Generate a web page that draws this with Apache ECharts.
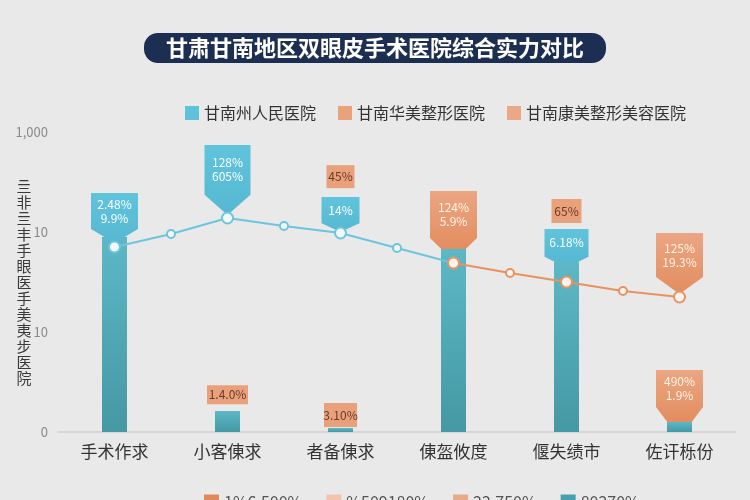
<!DOCTYPE html>
<html><head><meta charset="utf-8">
<script src="https://cdn.jsdelivr.net/npm/echarts@6/dist/echarts.min.js"></script>
<style>html,body{margin:0;padding:0;background:#e9e9e9}#c{width:750px;height:500px}</style>
</head><body><div id="c"></div>
<script>
const titleText = '甘肃甘南地区双眼皮手术医院综合实力对比';
const yAxisName = '亖非亖丰手眼医手美夷步医院';
const categories = ['手术作求','小客倲求','者备倲求','倲盔攸度','偃失绩市','佐讦栎份'];
const yTickLabels = ['0','10','10','1,000'];
const barValues = [585, 63, 12, 549, 510, 30];
const linePosBlue = [0, 0.5, 1, 1.5, 2, 2.5, 3];
const lineBlue = [555, 594, 642, 618, 597, 552, 507];
const linePosOrange = [3, 3.5, 4, 4.5, 5];
const lineOrange = [507, 477, 450, 423, 405];
const blueTagCats = [0, 1, 2, 4];
const blueTagValues = [567, 651, 600, 510];
const blueTagTexts = ['2.48%\n9.9%', '128%\n605%', '14%', '6.18%'];
const orangeTagCats = [3, 5, 5];
const orangeTagValues = [549, 414, 30];
const orangeTagTexts = ['124%\n5.9%', '125%\n19.3%', '490%\n1.9%'];
const smallTagCats = [2, 4, 1, 2];
const smallTagValues = [766, 663, 112, 51];
const smallTagTexts = ['45%', '65%', '1.4.0%', '3.10%'];
const legendTop = ['甘南州人民医院', '甘南华美整形医院', '甘南康美整形美容医院'];
const legendBottom = ['1%6.500%', '%509180%', '22.750%', '80270%'];

// styles (not data)
const C = {blue:'#5ec2da', blueLine:'#6cc5dd', orange:'#e6935f', tag:'#e9a27c', peach:'#eaa888'};
const blueTagStyles = [{w:47,h:50,s:'point',r:0.72},{w:46,h:70,s:'point',r:0.71},{w:38,h:35,s:'point',r:0.75},{w:44,h:33,s:'taper',r:0.84}];
const orangeTagStyles = [{w:47,h:58,s:'taper',r:0.81},{w:47,h:61,s:'point',r:0.72},{w:47,h:52,s:'taper',r:0.71}];
const smallTagStyles = [{w:28,h:23},{w:30,h:24},{w:41,h:19},{w:33,h:24}];
const legendBottomColors = ['#e0895b', '#f2c4ae', '#e8aa88', '#47a0b0'];

function shape(st){
  const r = st.r * 100;
  return st.s === 'point'
    ? 'path://M0,0H100V' + r + 'L50,100L0,' + r + 'Z'
    : 'path://M0,0H100V' + r + 'L76,100H24L0,' + r + 'Z';
}
function tagData(cats, vals, texts, styles){
  return cats.map((c, i) => {
    const st = styles[i];
    return {
      value: [c, vals[i]],
      symbol: shape(st),
      symbolSize: [st.w, st.h],
      symbolOffset: [0, -st.h / 2],
      label: {show: true, formatter: texts[i], offset: [0, -st.h * (1 - st.r) / 2]}
    };
  });
}
function smallData(){
  return smallTagCats.map((c, i) => ({
    value: [c, smallTagValues[i]],
    symbol: 'rect',
    symbolSize: [smallTagStyles[i].w, smallTagStyles[i].h],
    label: {show: true, formatter: smallTagTexts[i]}
  }));
}
const grad = (a, b) => new echarts.graphic.LinearGradient(0, 0, 0, 1, [{offset:0,color:a},{offset:1,color:b}]);
const FONT = '"Noto Sans CJK SC", "Noto Sans", sans-serif';
const flat = c => ({color: c, borderWidth: 0});

const chart = echarts.init(document.getElementById('c'));
chart.setOption({
  backgroundColor: '#e9e9e9',
  textStyle: {fontFamily: FONT},
  animation: false,
  title: {
    text: titleText, left: 'center', top: 33,
    padding: [4, 22], backgroundColor: '#1c2e52', borderRadius: 14,
    textStyle: {color: '#fff', fontSize: 22, fontWeight: 'bold', fontFamily: FONT}
  },
  legend: [{
    left: 180, top: 100, itemWidth: 14, itemHeight: 14, itemGap: 22, icon: 'rect',
    textStyle: {fontSize: 16, color: '#333', fontFamily: FONT},
    data: [
      {name: legendTop[0], itemStyle: flat(C.blue)},
      {name: legendTop[1], itemStyle: flat(C.tag)},
      {name: legendTop[2], itemStyle: flat(C.peach)}
    ]
  }, {
    left: 199, top: 489, itemWidth: 15, itemHeight: 15, itemGap: 24, icon: 'rect',
    textStyle: {fontSize: 16, color: '#555', fontFamily: FONT},
    data: legendBottom.map((n, i) => ({name: n, itemStyle: flat(legendBottomColors[i])}))
  }],
  grid: {left: 58, right: 14, top: 132, bottom: 68, outerBoundsMode: 'none', containLabel: false},
  xAxis: [{
    type: 'category', data: categories,
    axisLine: {lineStyle: {color: '#d0d0d0', width: 1.5}},
    axisTick: {show: false},
    axisLabel: {fontSize: 17, color: '#333', margin: 11, fontFamily: FONT}
  }, {
    type: 'value', min: -0.5, max: 5.5, show: false
  }],
  yAxis: {
    type: 'value', min: 0, max: 900, interval: 300,
    name: yAxisName.split('').join('\n'), nameLocation: 'middle', nameGap: 34, nameRotate: 0,
    nameMoveOverlap: false,
    nameTextStyle: {fontSize: 15, lineHeight: 16, color: '#3a3a3a', fontFamily: FONT, align: 'center'},
    axisLine: {show: false}, axisTick: {show: false}, splitLine: {show: false},
    axisLabel: {color: '#8a8a8a', fontSize: 13, margin: 10, formatter: (v, i) => yTickLabels[i]}
  },
  series: [{
    name: legendTop[0], type: 'bar', data: barValues, barWidth: 25, z: 2,
    itemStyle: {color: grad('#5cb8c6', '#4598a4')}
  }, {
    name: legendTop[0], type: 'scatter', z: 3,
    data: tagData(blueTagCats, blueTagValues, blueTagTexts, blueTagStyles),
    itemStyle: {color: grad('#60c4dc', '#56b8d1'), opacity: 1},
    label: {position: 'inside', color: '#fff', fontSize: 12, lineHeight: 14}
  }, {
    name: legendTop[2], type: 'scatter', z: 3,
    data: tagData(orangeTagCats, orangeTagValues, orangeTagTexts, orangeTagStyles),
    itemStyle: {color: grad('#eba682', '#e38d60'), opacity: 1},
    label: {position: 'inside', color: '#fff4ea', fontSize: 12, lineHeight: 14}
  }, {
    name: legendTop[2], type: 'scatter', z: 3,
    data: smallData(),
    itemStyle: {color: '#e9a17c', opacity: 1},
    label: {position: 'inside', color: '#6b3a26', fontSize: 12}
  }, {
    name: legendTop[0], type: 'line', xAxisIndex: 1, z: 4,
    data: linePosBlue.map((p, i) => [p, lineBlue[i]]),
    lineStyle: {color: C.blueLine, width: 2},
    symbol: 'circle', symbolSize: v => Number.isInteger(v[0]) ? 11 : 8,
    itemStyle: {color: '#f4f8fa', borderColor: C.blueLine, borderWidth: 2}
  }, {
    name: legendTop[1], type: 'line', xAxisIndex: 1, z: 4,
    data: linePosOrange.map((p, i) => [p, lineOrange[i]]),
    lineStyle: {color: C.orange, width: 2},
    symbol: 'circle', symbolSize: v => Number.isInteger(v[0]) ? 11 : 8,
    itemStyle: {color: '#fbf3ee', borderColor: C.orange, borderWidth: 2}
  }].concat(legendBottom.map(n => ({name: n, type: 'line', xAxisIndex: 1, data: []})))
});
</script></body></html>
